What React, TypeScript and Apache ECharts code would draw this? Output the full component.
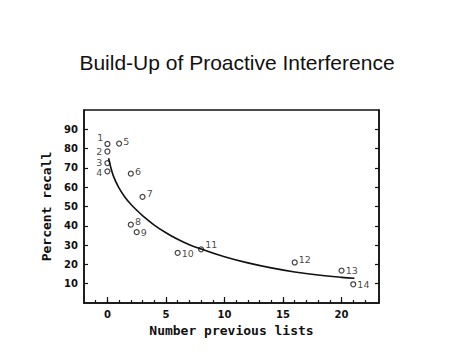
import React, { useEffect, useRef } from "react";
import * as echarts from "echarts";

const pointLabels = ["1", "2", "3", "4", "5", "6", "7", "8", "9", "10", "11", "12", "13", "14"];
const previousLists = [0, 0, 0, 0, 1, 2, 3, 2, 2.5, 6, 8, 16, 20, 21];
const percentRecall = [82.4, 78.5, 72.5, 68.2, 82.6, 67, 55, 40.6, 36.7, 26, 27.8, 21, 16.8, 9.7];

const curveX = [0.1, 0.5, 1, 1.5, 2, 2.5, 3, 4, 5, 6, 7, 8, 10, 12, 14, 16, 18, 20, 21.1];
const curveY = [75, 66, 59.5, 54.8, 51.2, 48.1, 45.3, 40.4, 36.4, 33, 30.2, 28, 24, 20.8, 18.2, 16.1, 14.5, 13.3, 12.8];

const xTickLabels = [0, 5, 10, 15, 20];
const yTickLabels = [10, 20, 30, 40, 50, 60, 70, 80, 90];

// label placement per point (offsets only, style)
const labelPos: Record<string, { position: string; offset: number[] }> = {
  "1": { position: "left", offset: [1, -6] },
  "2": { position: "left", offset: [0, 0] },
  "3": { position: "left", offset: [0, -1] },
  "4": { position: "left", offset: [0, 1] },
  "5": { position: "right", offset: [-1, -2] },
  "6": { position: "right", offset: [-1, -2] },
  "7": { position: "right", offset: [-1, -3] },
  "8": { position: "right", offset: [-1, -3] },
  "9": { position: "right", offset: [-1, 0] },
  "10": { position: "right", offset: [-1, 1] },
  "11": { position: "right", offset: [-1, -5] },
  "12": { position: "right", offset: [-1, -3] },
  "13": { position: "right", offset: [-1, 0] },
  "14": { position: "right", offset: [-1, 0] },
};

const FONT = "DejaVu Sans";
const MONO = "DejaVu Sans Mono";
const INK = "#111111";

export default function App() {
  const ref = useRef<HTMLDivElement>(null);
  useEffect(() => {
    if (!ref.current) return;
    const chart = echarts.init(ref.current, undefined, { renderer: "svg" });
    const intTicks: number[] = [];
    for (let i = -1; i <= 22; i++) intTicks.push(i);

    const labelStyle = {
      show: true,
      distance: 2,
      fontFamily: FONT,
      fontSize: 9.5,
      lineHeight: 8,
      color: INK,
    };

    const scatterData = previousLists.map((x, i) => {
      const lp = labelPos[pointLabels[i]];
      return {
        value: [x, percentRecall[i]],
        name: pointLabels[i],
        label: { ...labelStyle, position: lp.position, offset: lp.offset, formatter: pointLabels[i] },
      };
    });

    chart.setOption({
      animation: false,
      backgroundColor: "#fff",
      color: [INK],
      textStyle: { color: INK },
      title: {
        text: "Build-Up of Proactive Interference",
        left: "center",
        top: 47,
        textStyle: {
          fontFamily: "Liberation Sans",
          fontSize: 21,
          fontWeight: "normal",
          color: INK,
        },
      },
      grid: {
        left: 84,
        top: 110,
        width: 295,
        height: 193,
        show: true,
        borderColor: INK,
        borderWidth: 1.5,
        backgroundColor: "transparent",
      },
      xAxis: [
        {
          type: "value",
          min: -2,
          max: 23.2,
          name: "Number previous lists",
          nameLocation: "middle",
          nameGap: 17,
          nameTextStyle: { fontFamily: MONO, fontSize: 13, fontWeight: "bold", color: INK },
          axisLine: { show: true, onZero: false, lineStyle: { color: INK, width: 1.5 } },
          axisTick: { show: true, inside: true, length: 3, customValues: intTicks, lineStyle: { color: INK, width: 1.2 } },
          axisLabel: {
            customValues: xTickLabels,
            margin: 6,
            fontFamily: FONT,
            fontSize: 10,
            fontWeight: "bold",
            color: INK,
          },
          splitLine: { show: false },
        },
        {
          type: "value",
          min: -2,
          max: 23.2,
          position: "bottom",
          axisLine: { show: false, onZero: false },
          axisTick: { show: true, inside: true, length: 6, customValues: xTickLabels, lineStyle: { color: INK, width: 1.2 } },
          axisLabel: { show: false },
          splitLine: { show: false },
        },
      ],
      yAxis: [
        {
          type: "value",
          min: 0,
          max: 100,
          name: "Percent recall",
          nameLocation: "middle",
          nameGap: 29,
          nameRotate: 90,
          nameTextStyle: { fontFamily: MONO, fontSize: 13, fontWeight: "bold", color: INK },
          axisLine: { show: true, onZero: false, lineStyle: { color: INK, width: 1.5 } },
          axisTick: { show: true, inside: true, length: 4, customValues: yTickLabels, lineStyle: { color: INK, width: 1.2 } },
          axisLabel: {
            customValues: yTickLabels,
            margin: 6,
            fontFamily: FONT,
            fontSize: 10,
            fontWeight: "bold",
            color: INK,
          },
          splitLine: { show: false },
        },
        {
          type: "value",
          min: 0,
          max: 100,
          position: "right",
          axisLine: { show: true, onZero: false, lineStyle: { color: INK, width: 1.5 } },
          axisTick: { show: true, inside: true, length: 4, customValues: yTickLabels, lineStyle: { color: INK, width: 1.2 } },
          axisLabel: { show: false },
          splitLine: { show: false },
        },
      ],
      series: [
        {
          type: "line",
          data: curveX.map((x, i) => [x, curveY[i]]),
          smooth: 0.4,
          showSymbol: false,
          color: INK,
          lineStyle: { color: INK, width: 1.6 },
          z: 2,
        },
        {
          type: "scatter",
          data: scatterData,
          symbol: "circle",
          symbolSize: 5,
          color: INK,
          itemStyle: { color: "#ffffff00", borderColor: INK, borderWidth: 1.2 },
          label: labelStyle,
          z: 3,
        },
      ],
    });
    return () => chart.dispose();
  }, []);
  return (
    <div
      ref={ref}
      style={{ position: "fixed", left: 0, top: 0, width: 474, height: 355 }}
    />
  );
}
